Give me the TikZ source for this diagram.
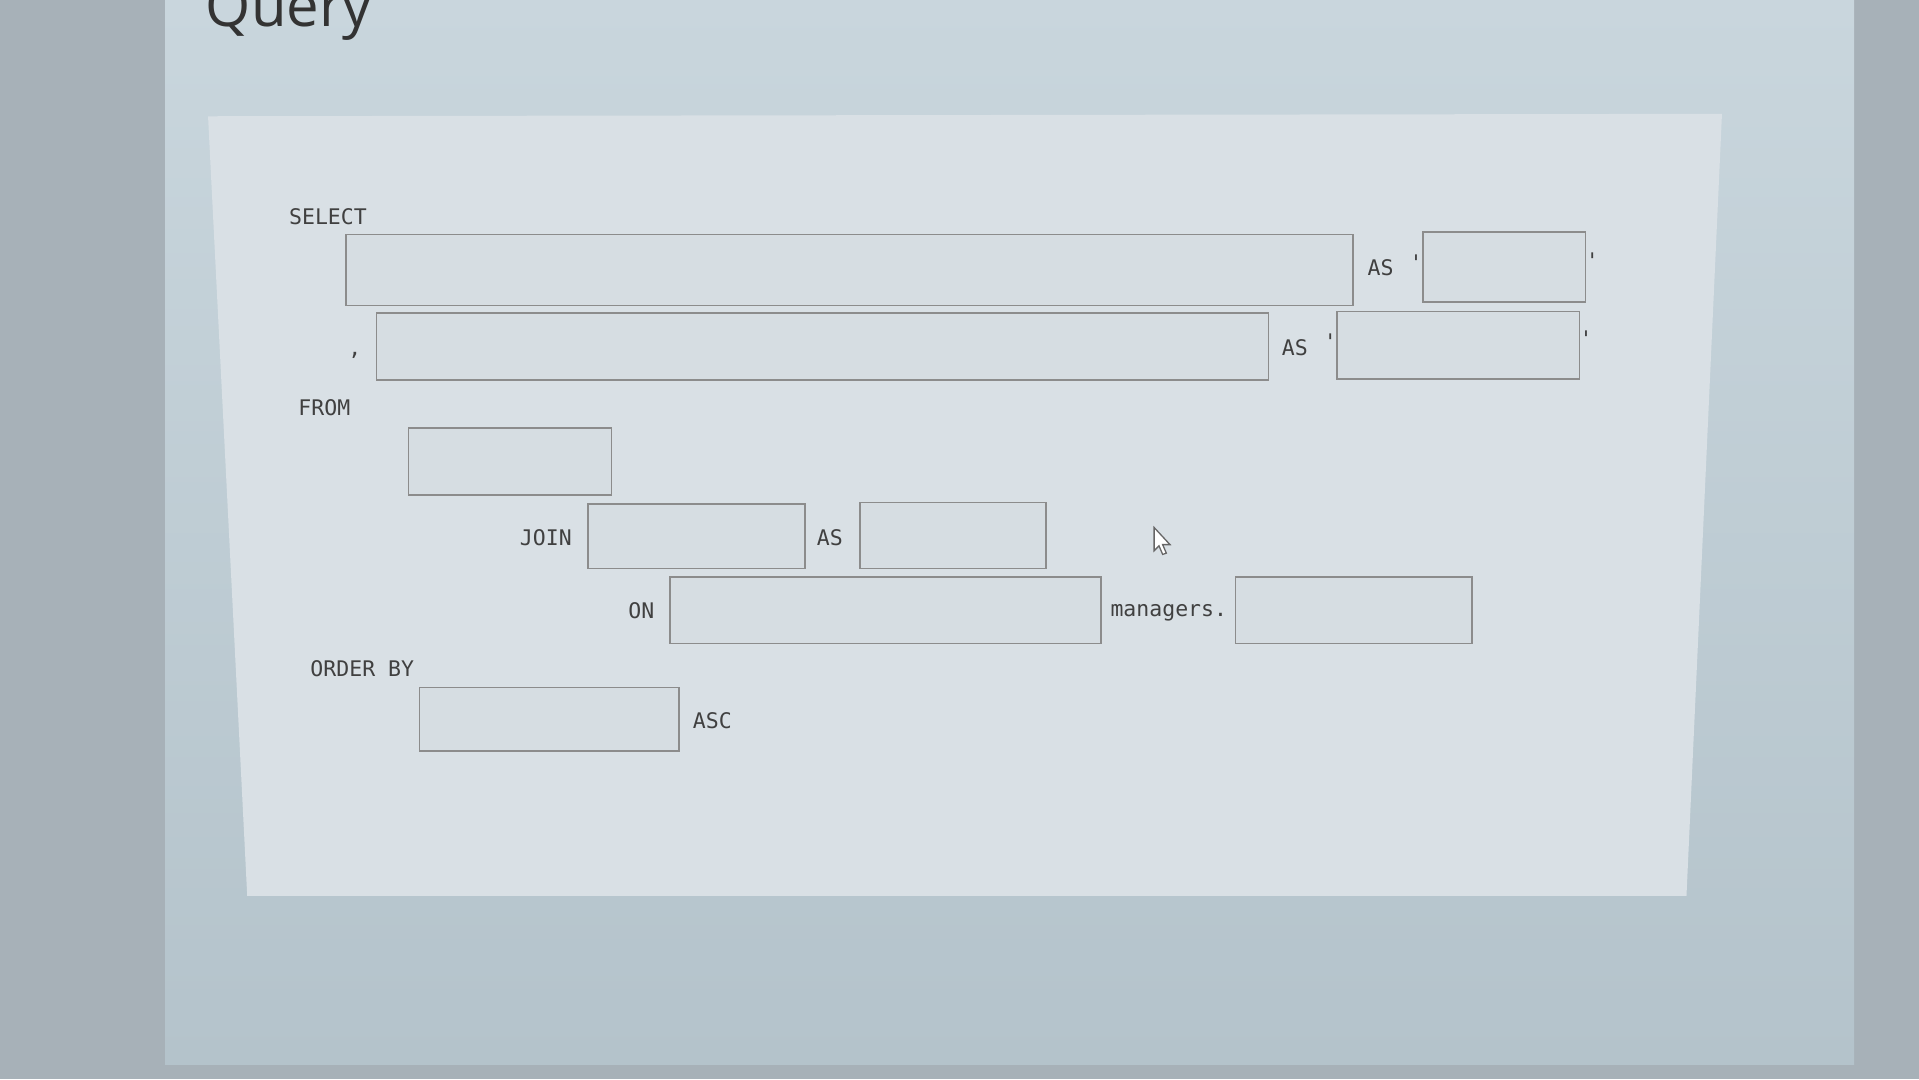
\documentclass[tikz,border=0pt]{standalone}
\usepackage{fontspec}
\setmonofont{DejaVu Sans Mono}
\setsansfont{Open Sans}
\definecolor{outerc}{HTML}{A7B1B8}
\definecolor{screentop}{HTML}{C9D6DD}
\definecolor{screenbot}{HTML}{B4C3CB}
\definecolor{panelc}{HTML}{D9E0E5}
\definecolor{fieldc}{HTML}{D6DDE2}
\begin{document}
\begin{tikzpicture}[x=0.02cm,y=-0.02cm,
  fld/.style={draw=black!45,line width=0.7pt,fill=fieldc},
  lbl/.style={font=\ttfamily\fontsize{10}{12}\selectfont,text=black!75,inner sep=0pt}]
\useasboundingbox (0,0) rectangle (1568,882);
\fill[outerc] (0,0) rectangle (1568,882);
\shade[top color=screentop,bottom color=screenbot] (135,0) rectangle (1515,870);
\fill[panelc] (170,95) -- (1407,93) -- (1378,732) -- (202,732) -- cycle;
\node[font=\sffamily\fontsize{27}{30}\selectfont,text=black!80,anchor=base west] (title) at (162,22) {Query};
\node[fld,minimum width=823*0.02cm,minimum height=58*0.02cm,anchor=north west] (b1) at (282,191) {};
\node[fld,minimum width=133*0.02cm,minimum height=57*0.02cm,anchor=north west] (b2) at (1162,189) {};
\node[fld,minimum width=729*0.02cm,minimum height=55*0.02cm,anchor=north west] (b3) at (307,255) {};
\node[fld,minimum width=198*0.02cm,minimum height=55*0.02cm,anchor=north west] (b4) at (1092,254) {};
\node[fld,minimum width=166*0.02cm,minimum height=55*0.02cm,anchor=north west] (b5) at (333,349) {};
\node[fld,minimum width=177*0.02cm,minimum height=53*0.02cm,anchor=north west] (b6) at (480,411) {};
\node[fld,minimum width=152*0.02cm,minimum height=54*0.02cm,anchor=north west] (b7) at (702,410) {};
\node[fld,minimum width=352*0.02cm,minimum height=54*0.02cm,anchor=north west] (b8) at (547,471) {};
\node[fld,minimum width=193*0.02cm,minimum height=54*0.02cm,anchor=north west] (b9) at (1009,471) {};
\node[fld,minimum width=212*0.02cm,minimum height=52*0.02cm,anchor=north west] (b10) at (342,561) {};
\node[lbl] (t1) at (268,177) {SELECT};
\node[lbl] (t2) at (1128,219) {AS};
\node[lbl] (t3) at (1157,215) {'};
\node[lbl] (t4) at (1301,213) {'};
\node[lbl] (t5) at (290,290) {,};
\node[lbl] (t6) at (1058,284) {AS};
\node[lbl] (t7) at (1087,279) {'};
\node[lbl] (t8) at (1296,277) {'};
\node[lbl] (t9) at (265,333) {FROM};
\node[lbl] (t10) at (446,439) {JOIN};
\node[lbl] (t11) at (678,439) {AS};
\node[lbl] (t12) at (524,499) {ON};
\node[lbl,anchor=base] (t13) at (955,504) {managers.};
\node[lbl] (t14) at (296,546) {ORDER BY};
\node[lbl] (t15) at (582,589) {ASC};
\draw[black!60,fill=white,line width=0.6pt] (943,431) -- (943,450) -- (947,446) -- (950,453) -- (953,452) -- (950,445) -- (956,445) -- cycle;
\end{tikzpicture}
\end{document}
